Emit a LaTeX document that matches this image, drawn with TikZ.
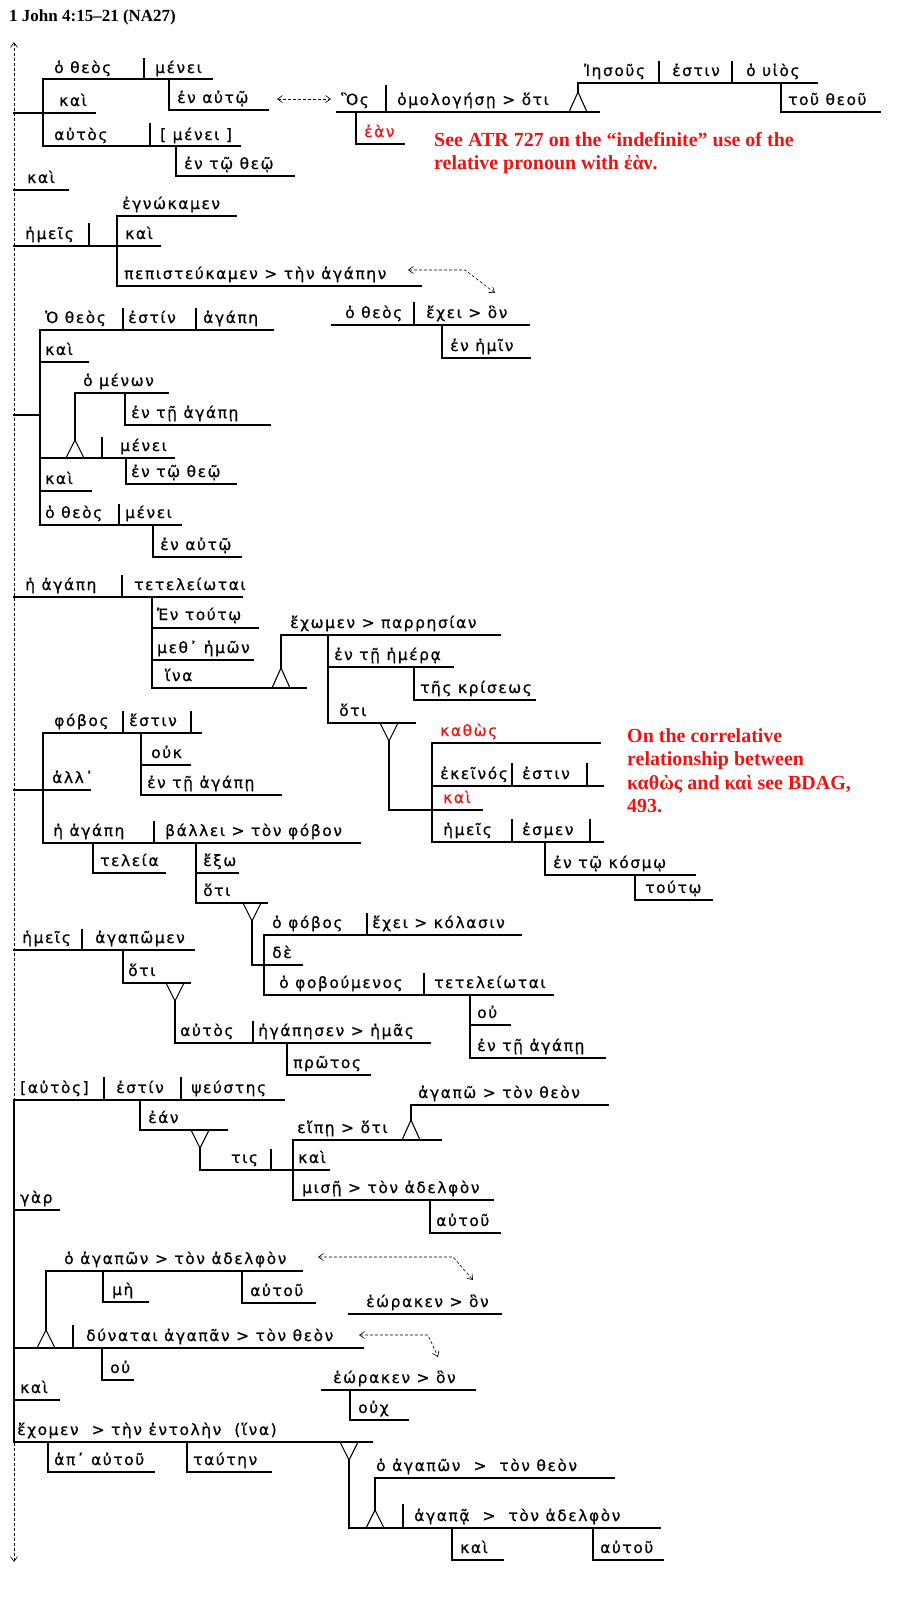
\documentclass[tikz,border=0pt]{standalone}
\usepackage{fontspec}
\setmainfont{DejaVu Sans}
\newfontfamily\gkfont[LetterSpace=10,FakeBold=0.6]{DejaVu Sans}
\newfontfamily\notefont{Liberation Serif}
\usetikzlibrary{arrows.meta}
\definecolor{notered}{RGB}{235,20,20}
\tikzset{
 g/.style={anchor=base west,inner sep=0pt,font=\gkfont\fontsize{15.5}{18}\selectfont},
 gr/.style={g,text=notered},
 note/.style={anchor=north west,inner sep=0pt,align=left,text=notered,font=\notefont\bfseries\fontsize{20}{23.5}\selectfont},
 ln/.style={line width=1.1pt,line cap=rect},
 dl/.style={densely dashed,line width=0.6pt},
 tipbb/.style={{Straight Barb[length=5pt,width=7pt]}-{Straight Barb[length=5pt,width=7pt]}},
}
\newcommand\tri[3]{\draw[ln] (#1-9,#2) -- (#1,#3) -- (#1+9,#2);}
\begin{document}
\begin{tikzpicture}[x=1pt,y=-1pt]
\useasboundingbox (0,0) rectangle (919,1600);
\node[anchor=base west,inner sep=0pt,font=\notefont\bfseries\fontsize{17}{18}\selectfont] (title) at (9,22) {1 John 4:15–21 (NA27)};
\draw[dl,tipbb] (14,1562) -- (14,42);
% --- section A
\node[g] (a1) at (54,73) {ὁ θεὸς}; \node[g] (a2) at (155,73) {μένει};
\draw[ln] (43,79)--(212,79); \draw[ln] (144,59)--(144,79);
\draw[ln] (43,79)--(43,146); \draw[ln] (14,113)--(95,113);
\node[g] (a3) at (59,106) {καὶ};
\draw[ln] (169,79)--(169,110)--(268,110); \node[g] (a4) at (177,103) {ἐν αὐτῷ};
\node[g] (a5) at (54,140) {αὐτὸς}; \node[g] (a6) at (160,140) {[ μένει ]};
\draw[ln] (43,146)--(240,146); \draw[ln] (150,124)--(150,146);
\draw[ln] (176,146)--(176,176)--(294,176); \node[g] (a7) at (184,169) {ἐν τῷ θεῷ};
\node[g] (a8) at (27,183) {καὶ}; \draw[ln] (14,190)--(68,190);
\node[g] (a9) at (25,239) {ἡμεῖς}; \draw[ln] (14,246)--(160,246); \draw[ln] (89,224)--(89,246);
\draw[ln] (117,216)--(117,286);
\node[g] (a10) at (122,209) {ἐγνώκαμεν}; \draw[ln] (117,216)--(236,216);
\node[g] (a11) at (125,239) {καὶ};
\node[g] (a12) at (124,279) {πεπιστεύκαμεν > τὴν ἀγάπην}; \draw[ln] (117,286)--(421,286);
\coordinate (d1a) at (408,270); \coordinate (d1b) at (465,270); \coordinate (d1c) at (495,293);
\draw[dl,tipbb] (d1a) -- (d1b) -- (d1c);
\coordinate (d0a) at (277,99); \coordinate (d0b) at (331,99);
\draw[dl,tipbb] (d0a) -- (d0b);
\draw[ln] (337,112)--(599,112); \draw[ln] (386,86)--(386,112);
\node[g] (b1) at (341,105) {Ὃς}; \node[g] (b2) at (397,105) {ὁμολογήσῃ > ὅτι};
\draw[ln] (356,112)--(356,144)--(404,144); \node[gr] (b3) at (364,137) {ἐὰν};
\tri{578}{112}{92} \draw[ln] (578,92)--(578,83)--(817,83);
\draw[ln] (659,62)--(659,83); \draw[ln] (732,62)--(732,83);
\node[g] (b4) at (584,76) {Ἰησοῦς}; \node[g] (b5) at (672,76) {ἐστιν}; \node[g] (b6) at (746,76) {ὁ υἱὸς};
\draw[ln] (781,83)--(781,112)--(880,112); \node[g] (b7) at (788,105) {τοῦ θεοῦ};
\node[note] (n1) at (434,132) {See ATR 727 on the “indefinite” use of the\\relative pronoun with ἐὰν.};
\draw[ln] (332,325)--(529,325); \draw[ln] (414,303)--(414,325);
\node[g] (c1) at (345,318) {ὁ θεὸς}; \node[g] (c2) at (426,318) {ἔχει > ὃν};
\draw[ln] (442,325)--(442,358)--(530,358); \node[g] (c3) at (450,351) {ἐν ἡμῖν};
% --- section B
\draw[ln] (14,415)--(40,415); \draw[ln] (40,330)--(40,525);
\node[g] (e1) at (45,323) {Ὁ θεὸς}; \node[g] (e2) at (128,323) {ἐστίν}; \node[g] (e3) at (203,323) {ἀγάπη};
\draw[ln] (40,330)--(273,330); \draw[ln] (123,309)--(123,330); \draw[ln] (196,309)--(196,330);
\node[g] (e4) at (45,355) {καὶ}; \draw[ln] (40,362)--(88,362);
\node[g] (e5) at (83,386) {ὁ μένων}; \draw[ln] (75,393)--(168,393); \draw[ln] (75,393)--(75,440);
\tri{75}{458}{440}
\draw[ln] (125,393)--(125,425)--(270,425); \node[g] (e6) at (131,418) {ἐν τῇ ἀγάπῃ};
\draw[ln] (40,458)--(174,458); \draw[ln] (102,438)--(102,458); \node[g] (e7) at (120,451) {μένει};
\draw[ln] (126,458)--(126,484)--(236,484); \node[g] (e8) at (131,477) {ἐν τῷ θεῷ};
\node[g] (e9) at (45,484) {καὶ}; \draw[ln] (40,491)--(91,491);
\node[g] (e10) at (45,518) {ὁ θεὸς}; \node[g] (e11) at (125,518) {μένει};
\draw[ln] (40,525)--(181,525); \draw[ln] (119,505)--(119,525);
\draw[ln] (153,525)--(153,557)--(241,557); \node[g] (e12) at (160,550) {ἐν αὐτῷ};
% --- section C
\node[g] (f1) at (25,590) {ἡ ἀγάπη}; \node[g] (f2) at (134,590) {τετελείωται};
\draw[ln] (14,597)--(242,597); \draw[ln] (122,576)--(122,597);
\draw[ln] (152,597)--(152,688);
\node[g] (f3) at (157,620) {Ἐν τούτῳ}; \draw[ln] (152,628)--(258,628);
\node[g] (f4) at (157,653) {μεθ᾽ ἡμῶν}; \draw[ln] (152,660)--(253,660);
\node[g] (f5) at (165,681) {ἵνα}; \draw[ln] (152,688)--(306,688);
\tri{281}{688}{668} \draw[ln] (281,668)--(281,635);
\node[g] (f6) at (290,628) {ἔχωμεν > παρρησίαν}; \draw[ln] (281,635)--(500,635);
\draw[ln] (328,635)--(328,723);
\node[g] (f7) at (334,660) {ἐν τῇ ἡμέρᾳ}; \draw[ln] (328,667)--(453,667);
\draw[ln] (414,667)--(414,700)--(535,700); \node[g] (f8) at (420,693) {τῆς κρίσεως};
\node[g] (f9) at (339,716) {ὅτι}; \draw[ln] (328,723)--(415,723);
\tri{389}{723}{741} \draw[ln] (389,741)--(389,810)--(482,810);
\draw[ln] (432,743)--(432,842);
\node[gr] (f10) at (440,736) {καθὼς}; \draw[ln] (432,743)--(600,743);
\node[g] (f11) at (440,779) {ἐκεῖνός}; \node[g] (f12) at (522,779) {ἐστιν};
\draw[ln] (432,786)--(603,786); \draw[ln] (512,764)--(512,786); \draw[ln] (587,764)--(587,786);
\node[gr] (f13) at (443,803) {καὶ};
\node[g] (f14) at (443,835) {ἡμεῖς}; \node[g] (f15) at (522,835) {ἐσμεν};
\draw[ln] (432,842)--(603,842); \draw[ln] (512,820)--(512,842); \draw[ln] (590,820)--(590,842);
\draw[ln] (545,842)--(545,875)--(695,875); \node[g] (f16) at (553,868) {ἐν τῷ κόσμῳ};
\draw[ln] (635,875)--(635,900)--(712,900); \node[g] (f17) at (645,893) {τούτῳ};
\node[note] (n2) at (627,728) {On the correlative\\relationship between\\καθὼς and καὶ see BDAG,\\493.};
\node[g] (h1) at (54,726) {φόβος}; \node[g] (h2) at (129,726) {ἔστιν};
\draw[ln] (43,733)--(201,733); \draw[ln] (123,712)--(123,733); \draw[ln] (191,712)--(191,733);
\draw[ln] (43,733)--(43,843);
\draw[ln] (141,733)--(141,795); \draw[ln] (141,765)--(190,765); \node[g] (h3) at (151,758) {οὐκ};
\node[g] (h4) at (147,788) {ἐν τῇ ἀγάπῃ}; \draw[ln] (141,795)--(281,795);
\node[g] (h5) at (52,783) {ἀλλ᾽}; \draw[ln] (14,790)--(90,790);
\node[g] (h6) at (53,836) {ἡ ἀγάπη}; \node[g] (h7) at (165,836) {βάλλει > τὸν φόβον};
\draw[ln] (43,843)--(360,843); \draw[ln] (154,822)--(154,843);
\draw[ln] (93,843)--(93,873)--(165,873); \node[g] (h8) at (100,866) {τελεία};
\draw[ln] (196,843)--(196,903); \draw[ln] (196,873)--(238,873); \node[g] (h9) at (203,866) {ἔξω};
\node[g] (h10) at (203,896) {ὅτι}; \draw[ln] (196,903)--(267,903);
\tri{252}{903}{921} \draw[ln] (252,921)--(252,965)--(302,965);
\node[g] (h11) at (272,928) {ὁ φόβος}; \node[g] (h12) at (372,928) {ἔχει > κόλασιν};
\draw[ln] (264,935)--(521,935); \draw[ln] (367,914)--(367,935);
\draw[ln] (264,935)--(264,995);
\node[g] (h13) at (272,958) {δὲ};
\node[g] (h14) at (279,988) {ὁ φοβούμενος}; \node[g] (h15) at (434,988) {τετελείωται};
\draw[ln] (264,995)--(553,995); \draw[ln] (424,974)--(424,995);
\draw[ln] (470,995)--(470,1058); \draw[ln] (470,1025)--(510,1025); \node[g] (h16) at (477,1018) {οὐ};
\node[g] (h17) at (477,1051) {ἐν τῇ ἀγάπῃ}; \draw[ln] (470,1058)--(605,1058);
\node[g] (k1) at (22,943) {ἡμεῖς}; \node[g] (k2) at (95,943) {ἀγαπῶμεν};
\draw[ln] (14,950)--(194,950); \draw[ln] (82,930)--(82,950);
\draw[ln] (123,950)--(123,983)--(190,983); \node[g] (k3) at (128,976) {ὅτι};
\tri{175}{983}{1001} \draw[ln] (175,1001)--(175,1043);
\node[g] (k4) at (180,1036) {αὐτὸς}; \node[g] (k5) at (258,1036) {ἠγάπησεν > ἡμᾶς};
\draw[ln] (175,1043)--(430,1043); \draw[ln] (253,1022)--(253,1043);
\draw[ln] (287,1043)--(287,1075)--(370,1075); \node[g] (k6) at (293,1068) {πρῶτος};
% --- section D
\node[g] (m1) at (20,1093) {[αὐτὸς]}; \node[g] (m2) at (116,1093) {ἐστίν}; \node[g] (m3) at (191,1093) {ψεύστης};
\draw[ln] (14,1100)--(284,1100); \draw[ln] (104,1078)--(104,1100); \draw[ln] (181,1078)--(181,1100);
\draw[ln] (14,1100)--(14,1442);
\draw[ln] (140,1100)--(140,1130)--(227,1130); \node[g] (m4) at (148,1123) {ἐάν};
\tri{200}{1130}{1148} \draw[ln] (200,1148)--(200,1170)--(329,1170);
\node[g] (m5) at (231,1163) {τις}; \draw[ln] (271,1150)--(271,1170);
\draw[ln] (293,1140)--(293,1200);
\node[g] (m6) at (297,1133) {εἴπῃ > ὅτι}; \draw[ln] (293,1140)--(441,1140);
\tri{411}{1140}{1120} \draw[ln] (411,1120)--(411,1105)--(608,1105);
\node[g] (m7) at (418,1098) {ἀγαπῶ > τὸν θεὸν};
\node[g] (m8) at (298,1163) {καὶ};
\node[g] (m9) at (302,1193) {μισῇ > τὸν ἀδελφὸν}; \draw[ln] (293,1200)--(493,1200);
\draw[ln] (430,1200)--(430,1233)--(500,1233); \node[g] (m10) at (436,1226) {αὐτοῦ};
\node[g] (m11) at (20,1203) {γὰρ}; \draw[ln] (14,1210)--(59,1210);
\node[g] (p1) at (64,1264) {ὁ ἀγαπῶν > τὸν ἀδελφὸν}; \draw[ln] (46,1271)--(302,1271);
\draw[ln] (46,1271)--(46,1330); \tri{46}{1348}{1330}
\draw[ln] (103,1271)--(103,1302)--(148,1302); \node[g] (p2) at (112,1295) {μὴ};
\draw[ln] (242,1271)--(242,1303)--(315,1303); \node[g] (p3) at (250,1296) {αὐτοῦ};
\coordinate (d2a) at (318,1257); \coordinate (d2b) at (453,1257); \coordinate (d2c) at (473,1280);
\draw[dl,tipbb] (d2a) -- (d2b) -- (d2c);
\node[g] (p4) at (366,1307) {ἑώρακεν > ὃν}; \draw[ln] (349,1314)--(501,1314);
\node[g] (p5) at (86,1341) {δύναται ἀγαπᾶν > τὸν θεὸν};
\draw[ln] (14,1348)--(363,1348); \draw[ln] (73,1326)--(73,1348);
\coordinate (d3a) at (359,1335); \coordinate (d3b) at (428,1335); \coordinate (d3c) at (438,1357);
\draw[dl,tipbb] (d3a) -- (d3b) -- (d3c);
\draw[ln] (102,1348)--(102,1380)--(133,1380); \node[g] (p6) at (110,1373) {οὐ};
\node[g] (p7) at (333,1383) {ἑώρακεν > ὃν}; \draw[ln] (322,1390)--(475,1390);
\draw[ln] (350,1390)--(350,1420)--(408,1420); \node[g] (p8) at (358,1413) {οὐχ};
\node[g] (p9) at (20,1393) {καὶ}; \draw[ln] (14,1400)--(59,1400);
\node[g] (q1) at (17,1435) {ἔχομεν \ > τὴν ἐντολὴν \ (ἵνα)}; \draw[ln] (14,1442)--(372,1442);
\draw[ln] (48,1442)--(48,1472)--(154,1472); \node[g] (q2) at (54,1465) {ἀπ᾽ αὐτοῦ};
\draw[ln] (187,1442)--(187,1472)--(271,1472); \node[g] (q3) at (193,1465) {ταύτην};
\tri{349}{1442}{1460} \draw[ln] (349,1460)--(349,1528)--(660,1528);
\node[g] (q4) at (376,1471) {ὁ ἀγαπῶν \ > \ τὸν θεὸν}; \draw[ln] (375,1478)--(614,1478);
\draw[ln] (375,1478)--(375,1510); \tri{375}{1528}{1510}
\draw[ln] (403,1505)--(403,1528); \node[g] (q5) at (414,1521) {ἀγαπᾷ \ > \ τὸν ἀδελφὸν};
\draw[ln] (452,1528)--(452,1560)--(503,1560); \node[g] (q6) at (460,1553) {καὶ};
\draw[ln] (593,1528)--(593,1560)--(663,1560); \node[g] (q7) at (600,1553) {αὐτοῦ};
\end{tikzpicture}
\end{document}
